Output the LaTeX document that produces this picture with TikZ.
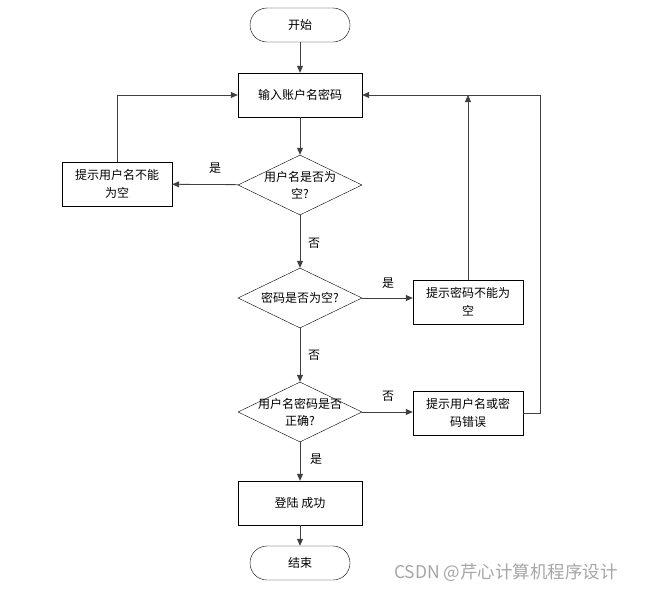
\documentclass[tikz,border=0pt]{standalone}
\usepackage{fontspec}
\setmainfont{Liberation Sans}
\newfontfamily\cjk{Noto Sans CJK SC}
\usetikzlibrary{shapes.geometric, arrows.meta, positioning}
\definecolor{line}{rgb}{0.25,0.25,0.25}
\tikzset{
	arrow/.style = {draw=line, thick, -{Triangle[length=7pt,width=6pt]}},
	startstop/.style = {rectangle, rounded corners=17pt, draw=black, minimum width=100pt, minimum height=34pt, font=\cjk\fontsize{12}{14}\selectfont},
	process/.style = {rectangle, draw=black, minimum width=124pt, minimum height=44pt, align=center, font=\cjk\fontsize{12}{14}\selectfont},
	tip/.style = {rectangle, draw=black, minimum width=110pt, minimum height=44pt, align=center, font=\cjk\fontsize{12}{18}\selectfont},
	decision/.style = {diamond, aspect=2.07, draw=black, inner sep=-12pt, minimum width=124pt, minimum height=60pt, align=center, font=\cjk\fontsize{12}{17}\selectfont},
	lbl/.style = {font=\cjk\fontsize{12}{14}\selectfont}
}
\begin{document}
\begin{tikzpicture}[x=1pt, y=-1pt]
\useasboundingbox (0,0) rectangle (648,592);
%----------------------------------------------------------------------------
% Placement of flowchart nodes
\node (start) [startstop] at (300,25) {开始};
\node (input) [process] at (300,95) {输入账户名密码};
\node (userEmpty) [decision] at (300,185) {用户名是否为\\空?};
\node (userTip) [tip] at (117,184) {提示用户名不能\\为空};
\node (pwdEmpty) [decision] at (300,298) {密码是否为空?};
\node (pwdTip) [tip] at (468,302) {提示密码不能为\\空};
\node (check) [decision] at (300,412) {用户名密码是否\\正确?};
\node (wrongTip) [tip] at (468,413) {提示用户名或密\\码错误};
\node (success) [process] at (300,503) {登陆 成功};
\node (stop) [startstop] at (300,563) {结束};
\coordinate (back) at (540,95);

%----------------------------------------------------------------------------
% Lines
\draw [arrow] (start) -- (input);
\draw [arrow] (input) -- (userEmpty);
\draw [arrow] (userEmpty) -- (userTip);
\draw [arrow] (userTip.north) |- (input.west);
\draw [arrow] (userEmpty) -- (pwdEmpty);
\draw [arrow] (pwdEmpty.east) -- (pwdEmpty.east -| pwdTip.west);
\draw [arrow] (pwdTip.north) -- (pwdTip.north |- back);
\draw [arrow] (pwdEmpty) -- (check);
\draw [arrow] (check.east) -- (check.east -| wrongTip.west);
\draw [arrow] (wrongTip.east) -| (back) -- (input.east);
\draw [arrow] (check) -- (success);
\draw [arrow] (success) -- (stop);

%----------------------------------------------------------------------------
% Labels
\node [lbl] (yes1) at (215,168) {是};
\node [lbl] (no1) at (314,243) {否};
\node [lbl] (yes2) at (388,283) {是};
\node [lbl] (no2) at (314,355) {否};
\node [lbl] (no3) at (388,396) {否};
\node [lbl] (yes3) at (316,459) {是};
\node [font=\cjk\fontsize{17.5}{19}\selectfont, text=gray!70] (mark) at (506,573) {CSDN @芹心计算机程序设计};
\end{tikzpicture}
\end{document}
